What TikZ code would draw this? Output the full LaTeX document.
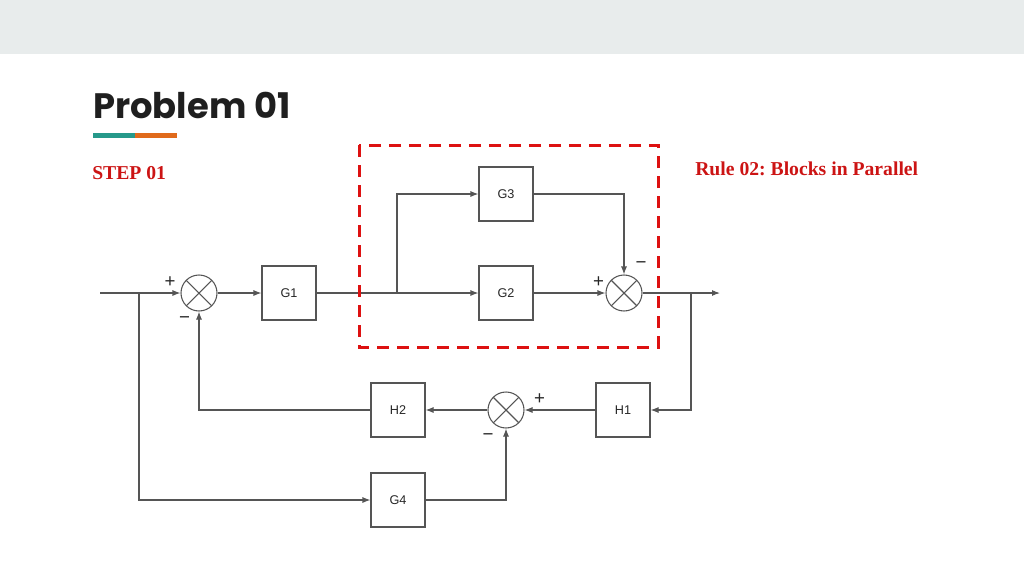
\documentclass[tikz,border=0pt]{standalone}
\usepackage{fontspec}
\setmainfont{Liberation Serif}
\setsansfont{Liberation Sans}
\newfontfamily\titlefont{Poppins}
\usetikzlibrary{arrows.meta}
\frenchspacing
\definecolor{band}{RGB}{232,236,236}
\definecolor{teal}{RGB}{38,153,138}
\definecolor{ocre}{RGB}{224,106,27}
\definecolor{rouge}{RGB}{204,20,20}
\definecolor{dashred}{RGB}{221,17,17}
\definecolor{wire}{RGB}{85,85,85}

\begin{document}
\begin{tikzpicture}[x=0.75pt,y=-0.75pt,
  block/.style={draw=wire,line width=0.8pt,minimum size=40.5pt,inner sep=0pt,font=\sffamily\fontsize{9.5}{9.5}\selectfont,text=black!85},
  sum/.style={draw=wire,line width=0.8pt,circle,minimum size=27pt,inner sep=0pt,
    path picture={\draw[wire,line width=0.8pt] (path picture bounding box.north west)--(path picture bounding box.south east)
      (path picture bounding box.north east)--(path picture bounding box.south west);}},
  sign/.style={font=\sffamily\fontsize{14}{14}\selectfont,inner sep=0pt,text=black!85},
  wire/.style={draw=wire,line width=0.8pt},
  >={Latex[length=6pt,width=4.5pt]}]
\useasboundingbox (0,0) rectangle (1024,576);
\fill [band] (0,0) rectangle (1024,54);
% title
\node [anchor=base west,inner sep=0pt,font=\titlefont\bfseries\fontsize{26.5}{26.5}\selectfont,text=black!88] (title) at (93,118) {Problem 01};
\fill [teal] (93,133) rectangle (135,138);
\fill [ocre] (135,133) rectangle (177,138);
\node [anchor=base west,inner sep=0pt,font=\bfseries\fontsize{14.75}{14.75}\selectfont,text=rouge] (step) at (92,179) {STEP 01};
\node [anchor=base west,inner sep=0pt,font=\bfseries\fontsize{14.75}{14.75}\selectfont,text=rouge] (rule) at (695,175) {Rule 02: Blocks in Parallel};
% blocks
\node [block] (G1) at (289,293) {G1};
\node [block] (G2) at (506,293) {G2};
\node [block] (G3) at (506,194) {G3};
\node [block] (H1) at (623,410) {H1};
\node [block] (H2) at (398,410) {H2};
\node [block] (G4) at (398,500) {G4};
\node [sum] (S1) at (199,293) {};
\node [sum] (S2) at (624,293) {};
\node [sum] (S3) at (506,410) {};
% branch points
\coordinate (in) at (100,293);
\coordinate (b0) at (139,293);
\coordinate (b1) at (397,293);
\coordinate (b2) at (691,293);
\coordinate (out) at (720,293);
% connectors
\draw [wire,->] (in) -- (S1);
\draw [wire,->] (b0) |- (G4);
\draw [wire,->] (S1) -- (G1);
\draw [wire] (G1) -- (b1);
\draw [wire,->] (b1) -- (G2);
\draw [wire,->] (b1) |- (G3);
\draw [wire,->] (G2) -- (S2);
\draw [wire,->] (G3) -| (S2);
\draw [wire,->] (S2) -- (out);
\draw [wire,->] (b2) |- (H1);
\draw [wire,->] (H1) -- (S3);
\draw [wire,->] (S3) -- (H2);
\draw [wire,->] (H2) -| (S1);
\draw [wire,->] (G4) -| (S3);
% signs
\node [sign] (p1) at (170,282) {+};
\node [sign] (m1) at (184.5,320) {−};
\node [sign] (p2) at (598.5,282) {+};
\node [sign] (m2) at (641,265) {−};
\node [sign] (p3) at (539.5,399) {+};
\node [sign] (m3) at (488,437) {−};
% parallel rule frame
\draw [dashred,line width=2.25pt,dash pattern=on 9pt off 6pt] (359,145) rectangle (658,347);

\end{tikzpicture}
\end{document}
